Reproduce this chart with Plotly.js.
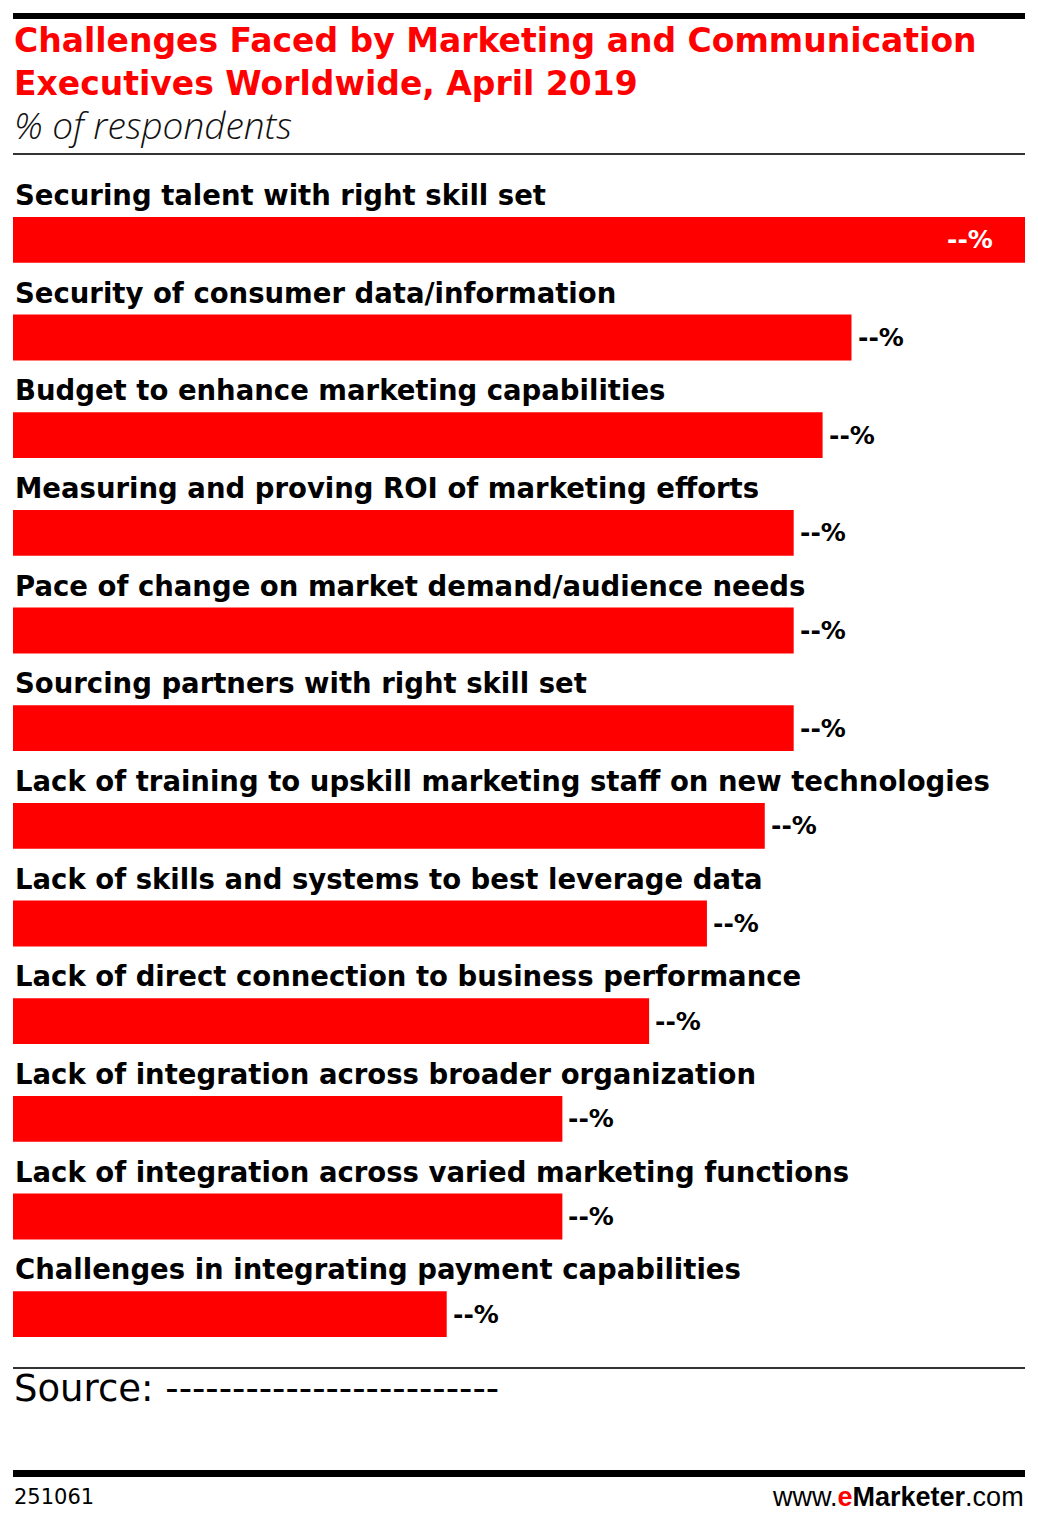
<!DOCTYPE html>
<html>
<head>
<meta charset="utf-8">
<script src="https://cdn.plot.ly/plotly-3.0.1.min.js"></script>
<style>
  html, body { margin: 0; padding: 0; background: #fff; }
  #chart { width: 1038px; height: 1523px; }
</style>
</head>
<body>
<div id="chart"></div>
<script>
// ---- data ----
const categories = [
  "Securing talent with right skill set",
  "Security of consumer data/information",
  "Budget to enhance marketing capabilities",
  "Measuring and proving ROI of marketing efforts",
  "Pace of change on market demand/audience needs",
  "Sourcing partners with right skill set",
  "Lack of training to upskill marketing staff on new technologies",
  "Lack of skills and systems to best leverage data",
  "Lack of direct connection to business performance",
  "Lack of integration across broader organization",
  "Lack of integration across varied marketing functions",
  "Challenges in integrating payment capabilities"
];
const values = [35, 29, 28, 27, 27, 27, 26, 24, 22, 19, 19, 15];
const valueLabels = ["--%", "--%", "--%", "--%", "--%", "--%", "--%", "--%", "--%", "--%", "--%", "--%"];
const titleLines = ["Challenges Faced by Marketing and Communication", "Executives Worldwide, April 2019"];
const subtitle = "% of respondents";
const sourceText = "Source: -------------------------";
const chartId = "251061";

// ---- layout geometry ----
const W = 1038, H = 1523;
const mL = 13, mR = 13, mT = 191, mB = 160;
const plotW = W - mL - mR, plotH = H - mT - mB;
const px = X => (X - mL) / plotW;
const py = Y => (H - mB - Y) / plotH;
const RED = "#ff0000";
const SANS = "DejaVu Sans";

const maxVal = Math.max(...values);

const annotations = [];
// title (two lines)
annotations.push({xref: "paper", yref: "paper", x: px(12), y: py(62.5), xanchor: "left", yanchor: "middle",
  text: titleLines.join("<br>"), showarrow: false, align: "left",
  font: {family: SANS, size: 33, color: RED, weight: 700}});
// subtitle
annotations.push({xref: "paper", yref: "paper", x: px(12), y: py(125), xanchor: "left", yanchor: "middle",
  text: "<i>" + subtitle + "</i>", showarrow: false,
  font: {family: "Open Sans", size: 37, color: "#111", weight: 300}});
// category labels
categories.forEach((c, i) => {
  annotations.push({xref: "paper", yref: "y", x: 0, y: c, xanchor: "left", yanchor: "middle",
    yshift: 45, text: c, showarrow: false,
    font: {family: SANS, size: 27.5, color: "#000", weight: 700}});
});
// value labels
categories.forEach((c, i) => {
  const inside = values[i] === maxVal;
  annotations.push({xref: "x", yref: "y", x: values[i], y: c,
    xanchor: inside ? "right" : "left", yanchor: "middle",
    xshift: inside ? -30 : 4, text: valueLabels[i], showarrow: false,
    font: {family: SANS, size: 25, color: inside ? "#fff" : "#000", weight: 700}});
});
// source
annotations.push({xref: "paper", yref: "paper", x: px(12), y: py(1388), xanchor: "left", yanchor: "middle",
  text: sourceText, showarrow: false,
  font: {family: SANS, size: 37, color: "#000"}});
// footer
annotations.push({xref: "paper", yref: "paper", x: px(12), y: py(1497), xanchor: "left", yanchor: "middle",
  text: chartId, showarrow: false,
  font: {family: SANS, size: 21, color: "#000"}});
annotations.push({xref: "paper", yref: "paper", x: px(1026), y: py(1497), xanchor: "right", yanchor: "middle",
  text: 'www.<b><span style="color:#ff0000">e</span>Marketer</b>.com', showarrow: false,
  font: {family: "Liberation Sans", size: 27, color: "#000"}});

const shapes = [
  {type: "rect", xref: "paper", yref: "paper", x0: px(13), x1: px(1025), y0: py(19), y1: py(13),
   fillcolor: "#000", line: {width: 0}},
  {type: "line", xref: "paper", yref: "paper", x0: px(13), x1: px(1025), y0: py(154), y1: py(154),
   line: {color: "#333", width: 2}},
  {type: "line", xref: "paper", yref: "paper", x0: px(13), x1: px(1025), y0: py(1368), y1: py(1368),
   line: {color: "#333", width: 2}},
  {type: "rect", xref: "paper", yref: "paper", x0: px(13), x1: px(1025), y0: py(1477), y1: py(1470),
   fillcolor: "#000", line: {width: 0}}
];

const trace = {
  type: "bar",
  orientation: "h",
  x: values,
  y: categories,
  marker: {color: RED, line: {width: 0}},
  hoverinfo: "skip",
  cliponaxis: false
};

const layout = {
  width: W, height: H,
  margin: {l: mL, r: mR, t: mT, b: mB, pad: 0},
  paper_bgcolor: "#fff", plot_bgcolor: "#fff",
  showlegend: false,
  bargap: 0.53,
  xaxis: {range: [0, maxVal], autorange: false, visible: false, fixedrange: true},
  yaxis: {type: "category", range: [categories.length - 0.5, -0.5], autorange: false, visible: false, fixedrange: true},
  annotations: annotations,
  shapes: shapes
};

Plotly.newPlot("chart", [trace], layout, {displayModeBar: false, staticPlot: true});
</script>
</body>
</html>
